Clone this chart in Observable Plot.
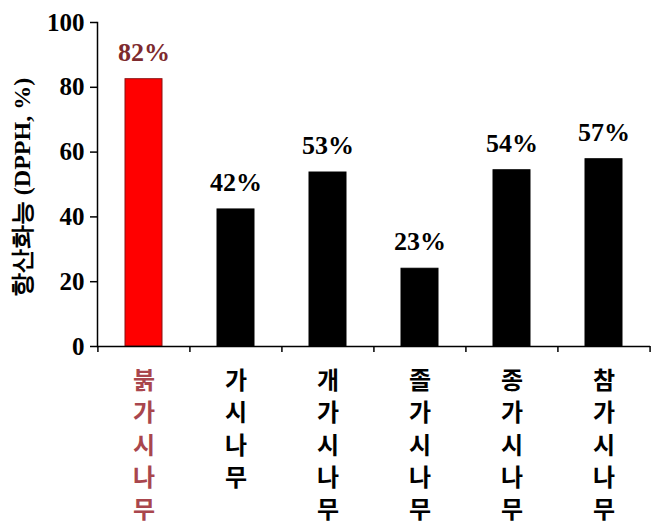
<!DOCTYPE html>
<html>
<head>
<meta charset="utf-8">
<script src="https://cdn.jsdelivr.net/npm/d3@7"></script>
<script src="https://cdn.jsdelivr.net/npm/@observablehq/plot@0.6"></script>
<style>
  html, body { margin: 0; padding: 0; background: #fff; }
</style>
</head>
<body>
<div id="chart"></div>
<script>
const categories = ["붉가시나무", "가시나무", "개가시나무", "졸가시나무", "종가시나무", "참가시나무"];
const values = [82.5, 42.3, 53.7, 24.0, 54.4, 57.8];
const valueLabels = ["82%", "42%", "53%", "23%", "54%", "57%"];
const yTicks = [0, 20, 40, 60, 80, 100];
const yLabelKo = "항산화능";
const yLabelEn = "(DPPH, %)";
const highlight = "붉가시나무";

const data = categories.map((c, i) => ({category: c, value: values[i], label: valueLabels[i]}));

const W = 658, H = 531;
const mL = 97, mR = 8, mT = 22, mB = 185;
const halfStep = (W - mL - mR) / categories.length / 2;
const serif = "'Liberation Serif', 'Times New Roman', serif";
const sans = "'Noto Sans CJK KR', 'Noto Sans', sans-serif";

const chart = Plot.plot({
  width: W,
  height: H,
  marginLeft: mL,
  marginRight: mR,
  marginTop: mT,
  marginBottom: mB,
  style: {fontFamily: serif, fontWeight: "bold", fontSize: "24px", color: "#000", background: "#fff"},
  x: {domain: categories, paddingInner: 0.6, paddingOuter: 0.3},
  y: {domain: [0, 100]},
  color: {type: "identity"},
  marks: [
    Plot.barY(data, {
      x: "category",
      y: "value",
      fill: d => d.category === highlight ? "#ff0000" : "#000000",
      stroke: d => d.category === highlight ? "#8a1010" : "#000000",
      strokeWidth: 1
    }),
    Plot.ruleY([0], {strokeWidth: 1.5}),
    Plot.frame({anchor: "left", strokeWidth: 1.5}),
    Plot.axisY({ticks: yTicks, tickSize: 7, tickPadding: 6, strokeWidth: 1.5, label: null,
      fontFamily: serif, fontWeight: "bold", fontSize: 25}),
    Plot.axisX({tickSize: 6, strokeWidth: 1.5, fill: "none", dx: -halfStep, label: null}),
    Plot.axisX({ticks: [categories[categories.length - 1]], tickSize: 6, strokeWidth: 1.5, fill: "none", dx: halfStep, label: null}),
    Plot.text(data, {
      x: "category",
      y: "value",
      text: "label",
      dy: -27,
      fill: d => d.category === highlight ? "#7d2a2e" : "#000000",
      fontFamily: serif,
      fontWeight: "bold",
      fontSize: 26
    }),
    Plot.text(categories, {
      x: d => d,
      frameAnchor: "bottom",
      text: d => d.split("").join("\n"),
      lineAnchor: "top",
      lineHeight: 1.34,
      dy: 20,
      fill: d => d === highlight ? "#a9464d" : "#000000",
      fontFamily: sans,
      fontWeight: 700,
      fontSize: 24
    }),
    Plot.text([yLabelKo + " " + yLabelEn], {
      frameAnchor: "left",
      text: d => d,
      rotate: -90,
      dx: -75,
      dy: 3,
      textAnchor: "middle",
      fontSize: 24,
      ariaLabel: "ylabel"
    })
  ]
});

document.getElementById("chart").appendChild(chart);

// Split the y-axis title into a Korean (sans) part and a Latin (serif) part.
const t = d3.select(chart).select("g[aria-label='ylabel'] text");
if (!t.empty()) {
  t.text(null);
  t.append("tspan").attr("font-family", sans).attr("font-weight", "bold").attr("font-size", 26).text(yLabelKo + " ");
  t.append("tspan").attr("font-family", serif).attr("font-weight", "bold").attr("font-size", 24).text(yLabelEn);
}
</script>
</body>
</html>
